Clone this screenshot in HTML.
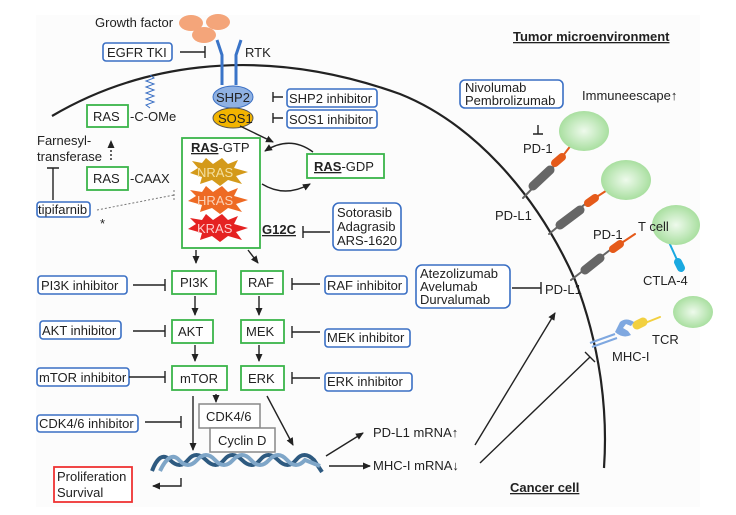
<!DOCTYPE html>
<html><head><meta charset="utf-8"><style>
html,body{margin:0;padding:0;background:#fff}
svg{display:block;font-family:"Liberation Sans",sans-serif}
text{font-size:13px;fill:#222}
.b{fill:#fff;stroke:#3a6fc4;stroke-width:1.6}
.g{fill:#fff;stroke:#3bb54a;stroke-width:1.8}
.k{stroke:#222;stroke-width:1.4;fill:none}
</style></head><body>
<svg width="736" height="515" viewBox="0 0 736 515">
<defs><marker id="a" markerWidth="8" markerHeight="8" refX="7" refY="4" orient="auto" markerUnits="userSpaceOnUse"><path d="M0,0.5 L8,4 L0,7.5z" fill="#222"/></marker>
<radialGradient id="tc"><stop offset="0" stop-color="#eefaec"/><stop offset="1" stop-color="#a9dfa0"/></radialGradient></defs>
<rect x="36" y="15" width="664" height="492" fill="#fcfcfc"/>
<path d="M52,116 C130,70 250,40 400,94 C470,122 535,190 575,280 C600,345 608,410 604,468" class="k" style="stroke-width:2.2"/>
<text x="95" y="27">Growth factor</text>
<ellipse cx="191" cy="23" rx="12" ry="8" fill="#f4a57a"/><ellipse cx="218" cy="22" rx="12" ry="8" fill="#f4a57a"/><ellipse cx="204" cy="35" rx="12" ry="8" fill="#f4a57a"/>
<rect x="103" y="43" width="69" height="18" rx="3" class="b"/><text x="107" y="57">EGFR TKI</text>
<path d="M180,52 H205 M205,46 V58" class="k"/>
<path d="M222,85 V55 L217,40 M236,85 V55 L241,40" stroke="#3a74c8" stroke-width="3" fill="none"/>
<text x="245" y="57">RTK</text>
<ellipse cx="233" cy="97" rx="20" ry="11" fill="#8fb1e2" stroke="#3a6fc4"/><text x="216" y="102">SHP2</text>
<ellipse cx="233" cy="118" rx="20" ry="10" fill="#f2b400" stroke="#555"/><text x="218" y="123">SOS1</text>
<path d="M273,97 H283 M273,92 V102 M273,118 H283 M273,113 V123" class="k"/>
<rect x="287" y="89" width="90" height="18" rx="3" class="b"/><text x="289" y="103">SHP2 inhibitor</text>
<rect x="287" y="110" width="90" height="18" rx="3" class="b"/><text x="289" y="124">SOS1 inhibitor</text>
<path d="M150,75 l4,3 -8,3 8,3 -8,3 8,3 -8,3 8,3 -8,3 8,3 -8,3 4,3" stroke="#3a6fc4" fill="none" stroke-width="1"/>
<rect x="87" y="105" width="41" height="22" class="g"/><text x="93" y="121">RAS</text>
<text x="130" y="121">-C-OMe</text>
<text x="37" y="145">Farnesyl-</text><text x="37" y="161">transferase</text>
<path d="M111,160 V141" class="k" stroke-dasharray="2,2" marker-end="url(#a)"/>
<rect x="87" y="167" width="41" height="23" class="g"/><text x="93" y="183">RAS</text>
<text x="130" y="183">-CAAX</text>
<path d="M53,200 V168 M47,168 H59" class="k"/>
<rect x="37" y="202" width="53" height="15" rx="3" class="b"/><text x="38" y="214">tipifarnib</text>
<path d="M97,210 L174,195 M174,190 V201" stroke="#777" stroke-dasharray="2,2" fill="none"/>
<text x="100" y="228">*</text>
<rect x="182" y="138" width="78" height="110" class="g"/>
<text x="191" y="152"><tspan font-weight="bold" text-decoration="underline">RAS</tspan>-GTP</text>
<polygon points="192,161 202,163 206,158 213,164 222,158 228,164 238,160 234,168 248,172 236,176 242,184 228,180 220,186 212,180 200,184 202,177 190,173 198,168" fill="#d49a1a"/>
<text x="197" y="177" style="fill:#f4e0a0">NRAS</text>
<polygon points="190,190 202,192 206,186 213,192 222,186 228,192 238,188 234,196 248,200 236,204 242,212 228,208 220,214 212,208 200,212 202,205 188,201 196,196" fill="#ee6a24"/>
<text x="197" y="205" style="fill:#fbd3b8">HRAS</text>
<polygon points="190,218 202,220 206,214 213,220 222,214 228,220 238,216 234,224 248,228 236,232 242,240 228,236 220,242 212,236 200,240 202,233 188,229 196,224" fill="#e52222"/>
<text x="197" y="233" style="fill:#fcc">KRAS</text>
<path d="M240,126 L273,142" class="k" marker-end="url(#a)"/>
<path d="M313,152 Q290,135 265,151" class="k" marker-end="url(#a)"/>
<path d="M262,184 Q285,198 310,184" class="k" marker-end="url(#a)"/>
<rect x="307" y="154" width="77" height="24" class="g"/>
<text x="314" y="171"><tspan font-weight="bold" text-decoration="underline">RAS</tspan>-GDP</text>
<text x="262" y="234" font-weight="bold" text-decoration="underline">G12C</text>
<path d="M303,232 H330 M303,226 V238" class="k"/>
<rect x="333" y="203" width="68" height="47" rx="6" class="b"/>
<text x="337" y="217">Sotorasib</text><text x="337" y="231">Adagrasib</text><text x="337" y="245">ARS-1620</text>
<path d="M196,250 V263" class="k" marker-end="url(#a)"/>
<path d="M248,250 L258,263" class="k" marker-end="url(#a)"/>
<rect x="172" y="271" width="44" height="23" class="g"/><text x="180" y="287">PI3K</text>
<rect x="241" y="271" width="42" height="23" class="g"/><text x="248" y="287">RAF</text>
<rect x="172" y="320" width="41" height="23" class="g"/><text x="178" y="336">AKT</text>
<rect x="241" y="320" width="43" height="23" class="g"/><text x="246" y="336">MEK</text>
<rect x="172" y="366" width="55" height="24" class="g"/><text x="180" y="383">mTOR</text>
<rect x="241" y="366" width="43" height="24" class="g"/><text x="248" y="383">ERK</text>
<path d="M195,296 V315" class="k" marker-end="url(#a)"/>
<path d="M259,296 V315" class="k" marker-end="url(#a)"/>
<path d="M195,345 V361" class="k" marker-end="url(#a)"/>
<path d="M259,345 V361" class="k" marker-end="url(#a)"/>
<path d="M216,394 V402" class="k" marker-end="url(#a)"/>
<path d="M193,396 V450" class="k" marker-end="url(#a)"/>
<path d="M267,396 L293,445" class="k" marker-end="url(#a)"/>
<rect x="38" y="276" width="89" height="18" rx="3" class="b"/><text x="41" y="290">PI3K inhibitor</text>
<path d="M133,285 H165 M165,279 V291" class="k"/>
<rect x="40" y="321" width="81" height="18" rx="3" class="b"/><text x="42" y="335">AKT inhibitor</text>
<path d="M133,331 H165 M165,325 V337" class="k"/>
<rect x="37" y="368" width="92" height="18" rx="3" class="b"/><text x="39" y="382">mTOR inhibitor</text>
<path d="M129,377 H165 M165,371 V383" class="k"/>
<rect x="325" y="276" width="82" height="18" rx="3" class="b"/><text x="327" y="290">RAF inhibitor</text>
<path d="M320,284 H292 M292,278 V290" class="k"/>
<rect x="325" y="329" width="85" height="18" rx="3" class="b"/><text x="327" y="342">MEK inhibitor</text>
<path d="M320,332 H292 M292,326 V338" class="k"/>
<rect x="325" y="373" width="87" height="18" rx="3" class="b"/><text x="327" y="386">ERK inhibitor</text>
<path d="M320,378 H292 M292,372 V384" class="k"/>
<rect x="37" y="415" width="101" height="17" rx="3" class="b"/><text x="39" y="428">CDK4/6 inhibitor</text>
<path d="M145,422 H181 M181,416 V428" class="k"/>
<rect x="199" y="404" width="61" height="24" fill="#fff" stroke="#888" stroke-width="1.5"/><text x="206" y="421">CDK4/6</text>
<rect x="210" y="428" width="65" height="24" fill="#fff" stroke="#888" stroke-width="1.5"/><text x="218" y="445">Cyclin D</text>
<path d="M152,471 Q160,450 170,460 T188,460 T206,460 T224,460 T242,460 T260,460 T278,460 T296,460 T314,460 L322,472" stroke="#2e5a80" stroke-width="4" fill="none"/>
<path d="M160,471 Q170,450 179,460 T197,460 T215,460 T233,460 T251,460 T269,460 T287,460 T305,460 L320,466" stroke="#7fa6c8" stroke-width="4" fill="none"/>
<rect x="54" y="467" width="78" height="35" fill="#fff" stroke="#e33" stroke-width="1.8"/>
<text x="57" y="481">Proliferation</text><text x="57" y="497">Survival</text>
<path d="M181,478 V486 H153" class="k" marker-end="url(#a)"/>
<path d="M326,456 L363,433" class="k" marker-end="url(#a)"/>
<path d="M329,466 H370" class="k" marker-end="url(#a)"/>
<text x="373" y="437">PD-L1 mRNA↑</text><text x="373" y="470">MHC-I mRNA↓</text>
<path d="M475,445 L555,313" class="k" marker-end="url(#a)"/>
<path d="M480,463 L590,357 M585,352 L595,362" class="k"/>
<text x="513" y="41" font-weight="bold" text-decoration="underline">Tumor microenvironment</text>
<text x="510" y="492" font-weight="bold" text-decoration="underline">Cancer cell</text>
<rect x="460" y="80" width="103" height="28" rx="5" class="b"/>
<text x="465" y="92">Nivolumab</text><text x="465" y="105">Pembrolizumab</text>
<text x="582" y="100">Immuneescape↑</text>
<path d="M538,125 V134 M533,134 H543" class="k"/>
<text x="523" y="153">PD-1</text>
<text x="495" y="220">PD-L1</text>
<text x="593" y="239">PD-1</text>
<rect x="416" y="265" width="94" height="43" rx="6" class="b"/>
<text x="420" y="278">Atezolizumab</text><text x="420" y="291">Avelumab</text><text x="420" y="304">Durvalumab</text>
<path d="M512,288 H541 M541,282 V294" class="k"/>
<text x="545" y="294">PD-L1</text>
<g stroke-linecap="round">
<path d="M523,198 L558,162" stroke="#666" stroke-width="2"/><path d="M533,186 L550,170" stroke="#666" stroke-width="9"/><path d="M555,163 L562,157" stroke="#e55a1a" stroke-width="8"/><path d="M562,157 L575,140" stroke="#e55a1a" stroke-width="2"/>
<path d="M549,234 L590,200" stroke="#666" stroke-width="2"/><path d="M560,225 L580,210" stroke="#666" stroke-width="9"/><path d="M588,203 L595,198" stroke="#e55a1a" stroke-width="8"/><path d="M595,198 L615,185" stroke="#e55a1a" stroke-width="2"/>
<path d="M571,280 L610,250" stroke="#666" stroke-width="2"/><path d="M585,270 L600,258" stroke="#666" stroke-width="9"/><path d="M613,249 L620,244" stroke="#e55a1a" stroke-width="8"/><path d="M620,244 L635,234" stroke="#e55a1a" stroke-width="2"/>
<path d="M668,240 L678,262" stroke="#1aa9e0" stroke-width="2"/><path d="M678,262 L681,268" stroke="#1aa9e0" stroke-width="8"/>
<path d="M640,325 L660,317" stroke="#f2d040" stroke-width="2"/><path d="M637,325 L643,322" stroke="#f2d040" stroke-width="9"/>
</g>
<ellipse cx="584" cy="131" rx="25" ry="20" fill="url(#tc)"/>
<ellipse cx="626" cy="180" rx="25" ry="20" fill="url(#tc)"/>
<ellipse cx="676" cy="225" rx="24" ry="20" fill="url(#tc)"/>
<ellipse cx="693" cy="312" rx="20" ry="16" fill="url(#tc)"/>
<text x="638" y="231">T cell</text>
<text x="643" y="285">CTLA-4</text>
<path d="M620,322 q6,-5 14,0 l-3,4 -5,-2 -3,4 5,3 3,4 q-8,4 -16,-3z" fill="#7fa8e0"/>
<path d="M590,343 L615,334 M592,347 L617,338" stroke="#7fa8e0" stroke-width="2"/>
<text x="652" y="344">TCR</text><text x="612" y="361">MHC-I</text>
</svg>
</body></html>
